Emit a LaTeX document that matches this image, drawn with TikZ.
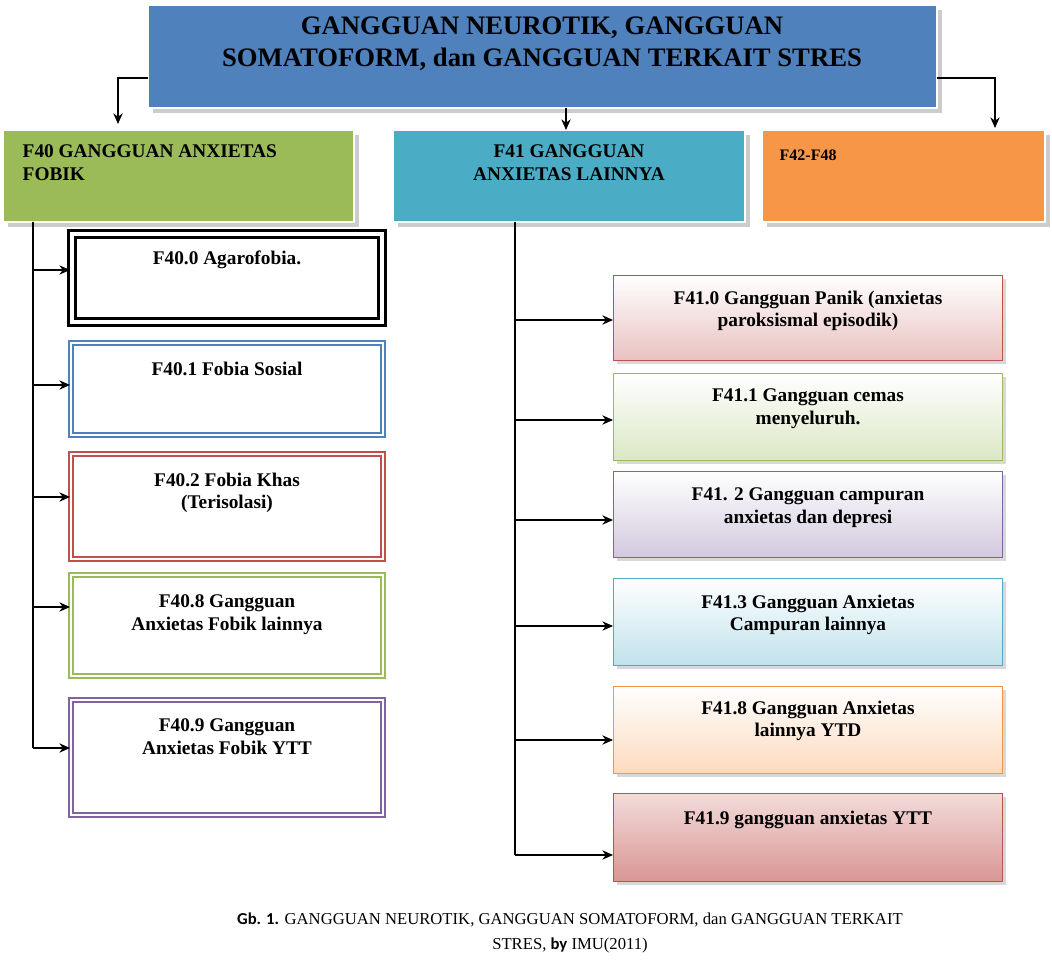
\documentclass[tikz,border=0pt]{standalone}
\usepackage{fontspec}
\setmainfont{Liberation Serif}
\newfontfamily\capfont{Carlito}
\usetikzlibrary{arrows.meta,shadows}
\definecolor{cblue}{RGB}{79,129,189}
\definecolor{cred}{RGB}{192,80,77}
\definecolor{cgreen}{RGB}{155,187,89}
\definecolor{cpurple}{RGB}{128,100,162}
\definecolor{cteal}{RGB}{75,172,198}
\definecolor{corange}{RGB}{247,150,70}
\definecolor{cpink}{RGB}{242,220,219}
\definecolor{cdred}{RGB}{217,150,148}
\begin{document}
\begin{tikzpicture}[x=0.75pt,y=-0.75pt,
 arr/.style={-{Stealth[length=8pt,width=7pt]},thick},
 txt/.style={font=\bfseries\fontsize{14.5}{17}\selectfont,align=center,anchor=north},
 hdr/.style={draw=white,line width=2pt,drop shadow={shadow xshift=4pt,shadow yshift=-4pt,fill=black!40}},
 dbl/.style={double,double distance=2pt,line width=1.4pt},
 grad/.style={draw=#1,top color=white,bottom color=#1!35}]
\useasboundingbox (0,0) rectangle (1052,980);
% top
\path[hdr,fill=cblue] (148,5) rectangle (937,108);
\node[txt,font=\bfseries\fontsize{20}{24}\selectfont] (tt) at (542,12) {GANGGUAN NEUROTIK, GANGGUAN\\SOMATOFORM, dan GANGGUAN TERKAIT STRES};
\path[hdr,fill=cgreen] (3,130) rectangle (354,222);
\node[txt,anchor=north west,align=left] (f40) at (18,140) {F40 GANGGUAN ANXIETAS\\FOBIK};
\path[hdr,fill=cteal] (393,130) rectangle (745,222);
\node[txt] (f41) at (569,140) {F41 GANGGUAN\\ANXIETAS LAINNYA};
\path[hdr,fill=corange] (762,130) rectangle (1045,222);
\node[txt,anchor=north west,font=\bfseries\fontsize{12}{14}\selectfont] (f42) at (775,145) {F42-F48};
\coordinate (l1) at (148,78); \coordinate (l2) at (118,78); \coordinate (l3) at (118,124);
\draw[arr] (l1)--(l2)--(l3);
\coordinate (m1) at (566,108); \coordinate (m2) at (566,130);
\draw[arr] (m1)--(m2);
\coordinate (r1) at (937,78); \coordinate (r2) at (995,78); \coordinate (r3) at (995,128);
\draw[arr] (r1)--(r2)--(r3);
% left column
\draw[dbl,line width=2.5pt,double distance=2.5pt] (72,234) rectangle (382,322);
\node[txt] (a0) at (227,246) {F40.0 Agarofobia.};
\draw[dbl,draw=cblue] (71,343) rectangle (383,435);
\node[txt] (a1) at (227,357) {F40.1 Fobia Sosial};
\draw[dbl,draw=cred] (71,454) rectangle (383,559);
\node[txt] (a2) at (227,468) {F40.2 Fobia Khas\\(Terisolasi)};
\draw[dbl,draw=cgreen] (71,575) rectangle (383,676);
\node[txt] (a8) at (227,590) {F40.8 Gangguan\\Anxietas Fobik lainnya};
\draw[dbl,draw=cpurple] (71,700) rectangle (383,815);
\node[txt] (a9) at (227,714) {F40.9 Gangguan\\Anxietas Fobik YTT};
\coordinate (lt) at (33,222); \coordinate (lb) at (33,748);
\draw[thick] (lt)--(lb);
\foreach \y in {270,385,497,607,748}{\coordinate (p) at (33,\y); \coordinate (q) at (70,\y); \draw[arr] (p)--(q);}
% right column
\begin{scope}[sh/.style={drop shadow={shadow xshift=3pt,shadow yshift=-3pt,fill=black!30}}]
\path[grad=cred,sh] (613,275) rectangle (1002,360);
\path[grad=cgreen,sh] (613,373) rectangle (1002,460);
\path[grad=cpurple,sh] (613,471) rectangle (1002,557);
\path[grad=cteal,sh] (613,578) rectangle (1002,665);
\path[grad=corange,sh] (613,686) rectangle (1002,773);
\path[draw=cred,top color=cpink,bottom color=cdred,sh] (613,793) rectangle (1002,881);
\end{scope}
\node[txt] (b0) at (808,286) {F41.0 Gangguan Panik (anxietas\\paroksismal episodik)};
\node[txt] (b1) at (808,384) {F41.1 Gangguan cemas\\menyeluruh.};
\node[txt] (b2) at (808,483) {F41. 2 Gangguan campuran\\anxietas dan depresi};
\node[txt] (b3) at (808,590) {F41.3 Gangguan Anxietas\\Campuran lainnya};
\node[txt] (b8) at (808,696) {F41.8 Gangguan Anxietas\\lainnya YTD};
\node[txt] (b9) at (808,806) {F41.9 gangguan anxietas YTT};
\coordinate (rt) at (515,222); \coordinate (rb) at (515,855);
\draw[thick] (rt)--(rb);
\foreach \y in {320,420,520,626,740,855}{\coordinate (p) at (515,\y); \coordinate (q) at (613,\y); \draw[arr] (p)--(q);}
% caption
\node[align=center,font=\fontsize{12.5}{19}\selectfont] (cap) at (570,933) {{\capfont\bfseries Gb. 1.} GANGGUAN NEUROTIK, GANGGUAN SOMATOFORM, dan GANGGUAN TERKAIT\\ STRES, {\capfont\bfseries by} IMU(2011)};
\end{tikzpicture}
\end{document}
